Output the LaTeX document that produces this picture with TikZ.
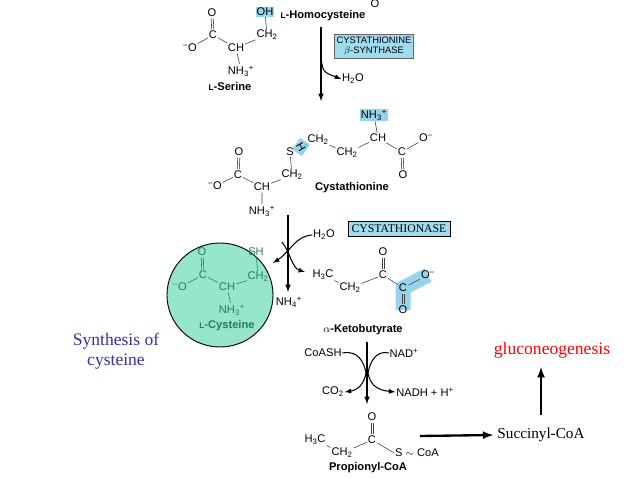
\documentclass[tikz,border=0pt]{standalone}
\usepackage{fontspec}
\setmainfont{Liberation Sans}
\newfontfamily\serifface{Liberation Serif}
\usetikzlibrary{arrows}
\definecolor{hlblue}{RGB}{150,212,238}
\definecolor{boxblue}{RGB}{160,220,240}
\definecolor{cysfill}{RGB}{150,230,205}
\definecolor{cystext}{RGB}{40,120,100}
\definecolor{synblue}{RGB}{50,50,170}
\newcommand\sbs[1]{\textsubscript{#1}}
\newcommand\chg[1]{\textsuperscript{#1}}
\newcommand\Lsc{{\fontsize{7}{8}\selectfont L}}
\newcommand\dbond[3][black!75]{%
  \draw[bond, draw=#1, transform canvas={xshift=0.9pt}] (#2) -- (#3);
  \draw[bond, draw=#1, transform canvas={xshift=-0.9pt}] (#2) -- (#3);}
\tikzset{
  atom/.style={font=\fontsize{9.5}{10}\selectfont, inner sep=0.6pt},
  molname/.style={font=\fontsize{9.5}{10}\selectfont\bfseries, inner sep=1pt},
  bond/.style={draw=black!75, line width=0.5pt, shorten <=0.6pt, shorten >=0.6pt},
  hl/.style={fill=hlblue},
  mainarrow/.style={line width=1.2pt, -latex},
  side/.style={line width=0.9pt, -latex},
  serif/.style={font=\serifface\fontsize{15}{17}\selectfont}
}
\begin{document}
\begin{tikzpicture}[x=0.03cm,y=-0.03cm]
\useasboundingbox[fill=white] (0,0) rectangle (638,479);
% L-Serine
\node[atom] (s1) at (212,13) {O};
\node[atom] (s2) at (213,35) {C};
\node[atom] (s3) at (190,48) {\chg{--}O};
\node[atom] (s4) at (236,48) {CH};
\node[atom] (s5) at (267,35) {CH\sbs2};
\node[atom,hl] (s6) at (265,12) {OH};
\node[atom] (s7) at (241,71) {NH\sbs3\chg{+}};
\node[molname] (serine) at (230,87) {\Lsc-Serine};
\node[molname] (homocys) at (323,16) {\Lsc-Homocysteine};
\node[atom] (topo) at (375,4) {O};
\dbond{s1}{s2}
\draw[bond] (s3) -- (s2) (s2) -- (s4) (s4) -- (s5) (s5) -- (s6) (s4) -- (s7);
% synthase step
\node[draw=black!60, fill=boxblue, font=\fontsize{8}{9}\selectfont, align=center, inner sep=2pt] (cbs) at (374,46) {CYSTATHIONINE\\$\beta$-SYNTHASE};
\coordinate (a1) at (321,27);
\coordinate (a2) at (321,101);
\draw[mainarrow] (a1) -- (a2);
\node[atom] (w1) at (353,79) {H\sbs2O};
\draw[side] (321,58) .. controls (323,72) .. (w1.west);
% Cystathionine
\node[atom,hl] (c1) at (374,115) {NH\sbs3\chg{+}};
\node[atom] (c2) at (378,138) {CH};
\node[atom] (c3) at (402,152) {C};
\node[atom] (c4) at (426,138) {O\chg{--}};
\node[atom] (c5) at (403,175) {O};
\node[atom] (c6) at (347,153) {CH\sbs2};
\node[atom] (c7) at (318,140) {CH\sbs2};
\fill[hlblue, rotate around={-35:(301,147)}] (295,140) rectangle (307,154);
\node[atom] (c8) at (290,152) {S};
\node[atom, rotate=-60] (ch) at (301,147) {H};
\node[atom] (c9) at (292,175) {CH\sbs2};
\node[atom] (c10) at (262,187) {CH};
\node[atom] (c11) at (238,175) {C};
\node[atom] (c12) at (239,152) {O};
\node[atom] (c13) at (215,186) {\chg{--}O};
\node[atom] (c14) at (262,211) {NH\sbs3\chg{+}};
\node[molname] (cysth) at (352,188) {Cystathionine};
\draw[bond] (c1) -- (c2) (c2) -- (c3) (c3) -- (c4) (c2) -- (c6) (c6) -- (c7) (c7) -- (ch)
  (c8) -- (c9) (c9) -- (c10) (c10) -- (c11) (c11) -- (c13) (c10) -- (c14);
\dbond{c3}{c5}
\dbond{c11}{c12}
% cystathionase step
\node[draw=black, fill=boxblue, font=\serifface\fontsize{10}{11}\selectfont, inner sep=3pt] (cyase) at (399,229) {CYSTATHIONASE};
\coordinate (b1) at (288,215);
\coordinate (b2) at (288,292);
\draw[mainarrow] (b1) -- (b2);
\node[atom] (w2) at (324,235) {H\sbs2O};
\node[atom] (nh4) at (289,302) {NH\sbs4\chg{+}};
% L-Cysteine
\draw[fill=cysfill, line width=0.8pt] (220,295) ellipse (53 and 52);
\begin{scope}[every node/.append style={text=cystext}]
\node[atom] (y1) at (202,252) {O};
\node[atom] (y2) at (203,275) {C};
\node[atom] (y3) at (180,287) {\chg{--}O};
\node[atom] (y4) at (227,287) {CH};
\node[atom] (y5) at (258,277) {CH\sbs2};
\node[atom] (y6) at (256,252) {SH};
\node[atom] (y7) at (232,310) {NH\sbs3\chg{+}};
\node[molname] (cyst) at (227,326) {\Lsc-Cysteine};
\end{scope}
\dbond[cystext]{y1}{y2}
\draw[bond,draw=cystext] (y3) -- (y2) (y2) -- (y4) (y4) -- (y5) (y5) -- (y6) (y4) -- (y7);
\draw[side] (w2.west) .. controls (295,236) and (290,252) .. (273,263);
\draw[side] (282,242) .. controls (290,252) and (292,268) .. (305,272);
% alpha-Ketobutyrate
\draw[hlblue, line width=0.45cm, line join=round] (428,275) -- (403,288) -- (403,310);
\node[atom] (k1) at (323,275) {H\sbs3C};
\node[atom] (k2) at (350,288) {CH\sbs2};
\node[atom] (k3) at (383,275) {C};
\node[atom] (k4) at (383,252) {O};
\node[atom] (k5) at (403,288) {C};
\node[atom] (k6) at (428,275) {O\chg{--}};
\node[atom] (k7) at (403,310) {O};
\node[molname] (keto) at (363,330) {$\alpha$-Ketobutyrate};
\draw[bond] (k1) -- (k2) (k2) -- (k3) (k3) -- (k5) (k5) -- (k6);
\dbond{k3}{k4}
\dbond{k5}{k7}
% decarboxylation step
\coordinate (d1) at (367,342);
\coordinate (d2) at (367,404);
\draw[mainarrow] (d1) -- (d2);
\node[atom] (coash) at (323,353) {CoASH};
\node[atom] (nad) at (404,353) {NAD\chg{+}};
\node[atom] (co2) at (333,392) {CO\sbs2};
\node[atom] (nadh) at (425,392) {NADH + H\chg{+}};
\draw[side] (coash.east) .. controls (358,350) and (364,362) .. (366,373) .. controls (364,384) and (358,390) .. (co2.east);
\draw[side] (nad.west) .. controls (376,350) and (370,362) .. (368,373) .. controls (370,384) and (376,390) .. (nadh.west);
% Propionyl-CoA
\node[atom] (p1) at (315,440) {H\sbs3C};
\node[atom] (p2) at (342,453) {CH\sbs2};
\node[atom] (p3) at (372,440) {C};
\node[atom] (p4) at (372,417) {O};
\node[atom] (p5) at (417,453) {S $\sim$ CoA};
\node[molname] (prop) at (368,468) {Propionyl-CoA};
\draw[bond] (p1) -- (p2) (p2) -- (p3) (p3) -- (p5.west);
\dbond{p3}{p4}
% fates
\node[font=\serifface\fontsize{13}{15}\selectfont] (succ) at (541,435) {Succinyl-CoA};
\node[serif, text=red] (gluco) at (552,350) {gluconeogenesis};
\node[serif, text=synblue, align=center] (synth) at (116,351) {Synthesis of\\cysteine};
\coordinate (e1) at (420,436);
\coordinate (g1) at (541,415);
\coordinate (g2) at (541,367);
\draw[mainarrow, line width=2pt] (e1) -- (succ.west);
\draw[mainarrow, line width=2pt] (g1) -- (g2);
\end{tikzpicture}
\end{document}
